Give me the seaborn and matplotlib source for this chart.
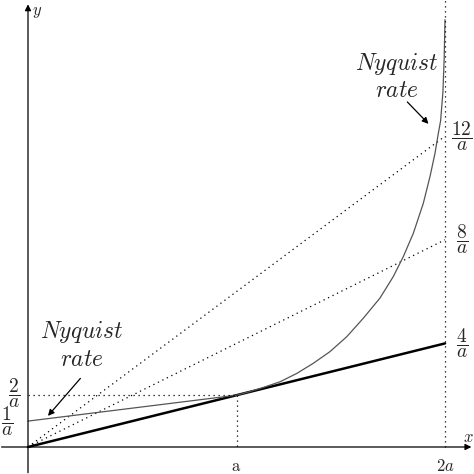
import numpy as np
import matplotlib
matplotlib.use('Agg')
import matplotlib.pyplot as plt
import seaborn as sns

# --- data, in units of a (x) and 1/a (y) ---
ray_x = [0, 2]
ray_4 = [0, 4]      # solid thick line up to 4/a
ray_8 = [0, 8]      # dotted
ray_12 = [0, 12]    # dotted

# Nyquist rate curve
curve_x = [0.0, 0.5, 1.0, 1.06, 1.129, 1.209, 1.289, 1.368, 1.448, 1.529, 1.608,
           1.688, 1.752, 1.80, 1.848, 1.896, 1.928, 1.952, 1.968, 1.979, 1.99,
           1.996, 2.0]
curve_y = [1.0, 1.5, 2.0, 2.13, 2.30, 2.52, 2.84, 3.23, 3.68, 4.26, 4.97,
           5.75, 6.58, 7.35, 8.25, 9.41, 10.44, 11.34, 12.11, 12.6, 13.7,
           15.0, 16.5]

ref_x = [0, 1, 1]
ref_y = [2, 2, 0]

left_ticks = [1, 2]
right_ticks = [4, 8, 12]

sns.set_style('white')
plt.rcParams['mathtext.fontset'] = 'cm'
plt.rcParams['font.family'] = ['DejaVu Serif']

fig = plt.figure(figsize=(4.74, 4.74), dpi=100)
ax = fig.add_axes([0, 0, 1, 1])
ux, uy = 208.5, 25.9
ax.set_xlim(-28 / ux, 446 / ux)
ax.set_ylim(-27 / uy, 447 / uy)
ax.axis('off')

dots = (0, (1, 3))
sns.lineplot(x=ray_x, y=ray_4, color='black', lw=1.8, ax=ax)
sns.lineplot(x=ray_x, y=ray_8, color='black', lw=0.9, linestyle=dots, ax=ax)
sns.lineplot(x=ray_x, y=ray_12, color='black', lw=0.9, linestyle=dots, ax=ax)
sns.lineplot(x=curve_x, y=curve_y, color='#555555', lw=0.9, sort=False, ax=ax)

# guide lines at a and 2a
ax.plot([0, ref_x[1]], [ref_y[0], ref_y[1]], color='black', lw=0.9, linestyle=dots)
ax.plot(ref_x[1:], ref_y[1:], color='black', lw=0.9, linestyle=dots)
ax.plot([2, 2], [0, 17.3], color='black', lw=0.9, linestyle=dots)

# axes with arrows
arr = dict(arrowstyle='-|>', lw=0.9, color='black', mutation_scale=9)
ax.annotate('', xy=(2.14, 0), xytext=(-0.14, 0), arrowprops=arr)
ax.annotate('', xy=(0, 17.2), xytext=(0, -1.1), arrowprops=arr)
ax.text(2.11, 0.38, '$x$', fontsize=12, ha='center', va='center')
ax.text(0.045, 16.8, '$y$', fontsize=12, ha='center', va='center')

# tick labels
ax.text(1, -0.75, r'$\mathrm{a}$', fontsize=12, ha='center', va='center')
ax.text(2, -0.75, '$2a$', fontsize=12, ha='center', va='center')
ax.text(-0.1, left_ticks[0], r'$\dfrac{1}{a}$', fontsize=14, ha='center', va='center')
ax.text(-0.065, left_ticks[1] + 0.05, r'$\dfrac{2}{a}$', fontsize=14, ha='center', va='center')
for v in right_ticks:
    ax.text(2.08, v, r'$\dfrac{%d}{a}$' % v, fontsize=14, ha='center', va='center')

# annotations
ax.text(1.77, 14.3, '$Nyquist$\n$rate$', fontsize=17, ha='center', va='center',
        linespacing=1.15)
ax.annotate('', xy=(1.93, 12.4), xytext=(1.81, 13.4),
            arrowprops=dict(arrowstyle='-|>', lw=0.9, color='black', mutation_scale=9))
ax.text(0.26, 3.95, '$Nyquist$\n$rate$', fontsize=17, ha='center', va='center',
        linespacing=1.15)
ax.annotate('', xy=(0.087, 1.12), xytext=(0.26, 2.73),
            arrowprops=dict(arrowstyle='-|>', lw=0.9, color='black', mutation_scale=9))

plt.savefig('out.png', dpi=100)
